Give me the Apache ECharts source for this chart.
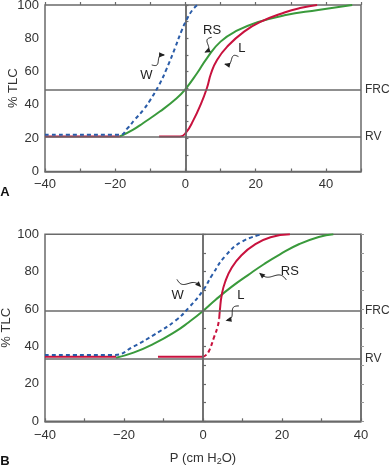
<!DOCTYPE html>
<html><head><meta charset="utf-8">
<script src="https://cdn.jsdelivr.net/npm/echarts@6/dist/echarts.min.js"></script>
<style>html,body{margin:0;padding:0;background:#fff}#c{width:391px;height:469px}</style>
</head><body><div id="c"></div>
<script>
// ---- tick labels ----
const topXTicks = [-40, -20, 0, 20, 40];
const botXTicks = [-40, -20, 0, 20, 40];
const yTicks = [0, 20, 40, 60, 80, 100];

// ---- reference levels (% TLC) ----
const topFRC = 49, topRV = 21;
const botFRC = 59, botRV = 33.5;

// ---- panel A curves [P (cm H2O), % TLC] ----
const topW = [[-40,22],[-18.7,22],[-16.5,26],[-14.5,31],[-12,37],[-10,43],[-7.5,52],[-5.3,62],[-3,74],[-1.2,84],[0.3,91],[2,97],[3.4,100]];
const topRS = [[-18.7,21],[-15,25],[-12.1,29],[-7.3,36],[-2.5,44],[0,49.5],[3.3,59],[6.1,68],[10,78],[14.8,84.7],[20.5,89.6],[28.2,93.8],[37.8,97],[47.5,100]];
const topLeftFlat = [[-40,21],[-18.7,21]];
const topL = [[-7.5,21],[-1.5,21],[0.2,23.5],[2.3,31],[4.2,39.5],[6.1,50],[7.3,59],[9,67],[11.9,75],[16.7,84],[21.5,90],[28.2,95.5],[33,98.3],[37.5,100]];

// ---- panel B curves ----
const botW = [[-40,35.5],[-22.5,35.5],[-17.6,40],[-12.3,46.4],[-7,53.8],[-3.5,61],[0,70],[2.4,78.5],[5.7,88.5],[9.8,96],[15,100]];
const botRS = [[-22,34],[-17.6,36.7],[-12.4,41.5],[-7.1,47.8],[-3.6,53],[0,59],[3.2,65],[7.3,72],[11.4,78.2],[15.4,84],[19.5,89.3],[24.4,94.8],[29.3,98.6],[33,100]];
const botLeftFlat = [[-40,34.5],[-22,34.5]];
const botLFlat = [[-11.4,34.5],[0,34.5]];
const botLDash = [[0,34.5],[0.8,35.5],[1.6,38],[2.8,45],[3.7,50.5],[4.1,55]];
const botL = [[4.1,55],[4.3,60],[4.7,67],[5.6,74.5],[7.3,82.2],[9.8,88.9],[13,94.3],[17.1,98.4],[22,100]];

// ---- annotations (data coords) ----
const notesTop = [
  {text:'W',  label:[-11.1,57.5], from:[-9.6,64],  to:[-5.8,70]},
  {text:'RS', label:[7.6,84.7],   from:[7.5,80.6], to:[5.4,71.4]},
  {text:'L',  label:[16.1,74],    from:[15.1,69],  to:[11,64.6]}
];
const notesBot = [
  {text:'W',  label:[-6.4,67.3], from:[-6.6,75.9], to:[-0.45,71.7]},
  {text:'RS', label:[22,80],     from:[21.1,75.6], to:[14.2,79.5]},
  {text:'L',  label:[9.6,67.2],  from:[9.1,61.7],  to:[5.7,53.8]}
];

const FONT = 'Liberation Sans, Arial, Helvetica, sans-serif';
const GREEN = '#3a9a3c', RED = '#c8123e', BLUE = '#2a5ca8', GRAY = '#6a6a6a', TXT = '#333';

function fmt(list) {
  return v => list.includes(v) ? (v < 0 ? '\u2212' + Math.abs(v) : String(v)) : '';
}
function xAxisBase(gi, min, max, ticks, inside) {
  return {
    type:'value', gridIndex:gi, min:min, max:max, interval:10,
    axisLine:{show:true, lineStyle:{color:GRAY, width:1.5}},
    axisTick:{show:true, inside:inside, length:3, lineStyle:{color:GRAY, width:1.2}},
    axisLabel:{formatter:fmt(ticks), color:TXT, fontSize:13, fontFamily:FONT, margin:6},
    splitLine:{show:false}
  };
}
function yAxisBase(gi, gap) {
  return {
    type:'value', gridIndex:gi, min:0, max:100, interval:10,
    name:'% TLC', nameLocation:'middle', nameGap:gap, nameMoveOverlap:false,
    nameTextStyle:{color:TXT, fontSize:13, fontFamily:FONT},
    axisLine:{show:true, lineStyle:{color:GRAY, width:1.5}},
    axisTick:{show:true, inside:true, length:3, lineStyle:{color:GRAY, width:1.2}},
    axisLabel:{formatter:fmt(yTicks), color:TXT, fontSize:13, fontFamily:FONT, margin:6},
    splitLine:{show:false}
  };
}
function guideSeries(xi, yi, frc, rv) {
  return {
    type:'line', xAxisIndex:xi, yAxisIndex:yi, data:[], silent:true, z:1,
    markLine:{
      silent:true, symbol:'none', animation:false,
      lineStyle:{color:GRAY, width:1.5, type:'solid'},
      label:{show:true, position:'end', color:TXT, fontSize:12, fontFamily:FONT, distance:4},
      data:[
        {yAxis:frc, label:{formatter:'FRC'}},
        {yAxis:rv, label:{formatter:'RV'}},
        {xAxis:0, label:{show:false}}
      ]
    }
  };
}
function curve(xi, yi, data, color, dashed, z) {
  return {
    type:'line', xAxisIndex:xi, yAxisIndex:yi, data:data, smooth:0.5,
    showSymbol:false, symbol:'none', z:z || 3, silent:true,
    lineStyle:{color:color, width:2, type: dashed ? [4,3] : 'solid'}
  };
}

const chart = echarts.init(document.getElementById('c'), null, {renderer:'canvas'});
const xTop = xAxisBase(0, -40, 50, topXTicks, true);
const xTopOut = Object.assign(xAxisBase(0, -40, 50, topXTicks, false), {
  axisLine:{show:false}, axisLabel:{show:false}
});
const xBot = xAxisBase(1, -40, 40, botXTicks, true);
xBot.axisLabel.margin = 8;
xBot.name = 'P (cm H{sub|2}O)';
xBot.nameLocation = 'middle';
xBot.nameGap = 29;
xBot.nameTextStyle = {color:TXT, fontSize:13, fontFamily:FONT, lineHeight:16,
  rich:{sub:{fontSize:9, fontFamily:FONT, color:TXT, verticalAlign:'bottom', lineHeight:16, padding:[8,0,0,0]}}};
const yBotRight = {
  type:'value', gridIndex:1, min:0, max:100, interval:10, position:'right',
  axisLine:{show:true, lineStyle:{color:GRAY, width:1.5}},
  axisTick:{show:true, inside:false, length:3, lineStyle:{color:'#999', width:1}},
  axisLabel:{show:false}, splitLine:{show:false}
};

chart.setOption({
  animation:false,
  backgroundColor:'#fff',
  grid:[
    {left:45, right:30, top:5, height:166.5, show:true, borderColor:GRAY, borderWidth:1.5,
     containLabel:false, outerBoundsMode:'none'},
    {left:45, right:30, top:234.3, height:187, show:true, borderColor:GRAY, borderWidth:1.5,
     containLabel:false, outerBoundsMode:'none'}
  ],
  xAxis:[xTop, xTopOut, xBot],
  yAxis:[yAxisBase(0, 25), yAxisBase(1, 32), yBotRight],
  series:[
    guideSeries(0, 0, topFRC, topRV),
    curve(0, 0, topRS, GREEN, false, 3),
    curve(0, 0, topLeftFlat, RED, false, 4),
    curve(0, 0, topL, RED, false, 4),
    curve(0, 0, topW, BLUE, true, 5),
    guideSeries(2, 1, botFRC, botRV),
    curve(2, 1, botRS, GREEN, false, 3),
    curve(2, 1, botLeftFlat, RED, false, 4),
    curve(2, 1, botLFlat, RED, false, 4),
    curve(2, 1, botLDash, RED, true, 4),
    curve(2, 1, botL, RED, false, 4),
    curve(2, 1, botW, BLUE, true, 5)
  ]
});

function buildNotes(seriesIndex, notes) {
  const els = [];
  notes.forEach(n => {
    const L = chart.convertToPixel({seriesIndex:seriesIndex}, n.label);
    const S = chart.convertToPixel({seriesIndex:seriesIndex}, n.from);
    const E = chart.convertToPixel({seriesIndex:seriesIndex}, n.to);
    els.push({type:'text', x:L[0], y:L[1], z:10, silent:true,
      style:{text:n.text, font:'13px ' + FONT, fill:'#222', align:'center', verticalAlign:'middle',
             textAlign:'center', textVerticalAlign:'middle'}});
    const dx = E[0]-S[0], dy = E[1]-S[1];
    const len = Math.hypot(dx, dy);
    const ux = dx/len, uy = dy/len, nx = -uy, ny = ux;
    const pts = [];
    const N = 30;
    for (let i = 0; i <= N; i++) {
      const t = i / N;
      const a = 3.5 * Math.sin(2 * Math.PI * t) * (1 - 0.4 * t);
      pts.push([S[0] + dx*t + nx*a, S[1] + dy*t + ny*a]);
    }
    const P = pts[N-3];
    let ax = E[0]-P[0], ay = E[1]-P[1];
    const al = Math.hypot(ax, ay); ax /= al; ay /= al;
    const bx = -ay, by = ax;
    const hl = 6, hw = 2.6;
    const base = [E[0]-ax*hl, E[1]-ay*hl];
    pts.length = N - 1;
    pts.push(base);
    els.push({type:'polyline', z:10, silent:true, shape:{points:pts, smooth:0.3},
      style:{stroke:'#222', lineWidth:1, fill:null}});
    els.push({type:'polygon', z:10, silent:true,
      shape:{points:[E, [base[0]+bx*hw, base[1]+by*hw], [base[0]-bx*hw, base[1]-by*hw]]},
      style:{fill:'#222', stroke:null}});
  });
  return els;
}

const graphics = []
  .concat(buildNotes(1, notesTop))
  .concat(buildNotes(6, notesBot))
  .concat([
    {type:'text', x:5, y:192, style:{text:'A', font:'bold 13px ' + FONT, fill:'#111', align:'center', verticalAlign:'middle', textAlign:'center', textVerticalAlign:'middle'}},
    {type:'text', x:5, y:461, style:{text:'B', font:'bold 13px ' + FONT, fill:'#111', align:'center', verticalAlign:'middle', textAlign:'center', textVerticalAlign:'middle'}}
  ]);
chart.setOption({graphic:graphics});
</script>
</body></html>
